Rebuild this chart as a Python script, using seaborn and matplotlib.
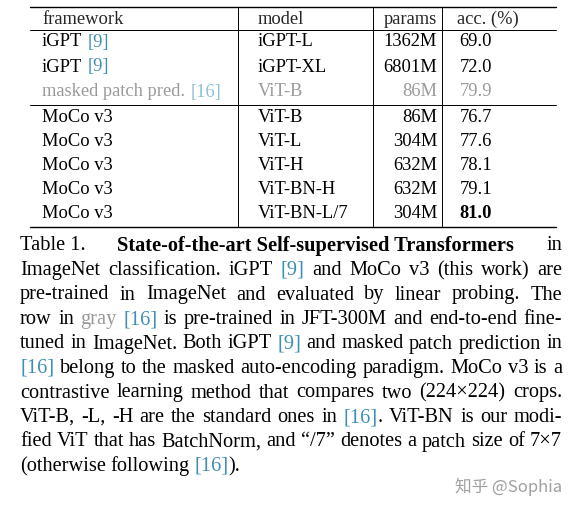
import matplotlib
matplotlib.use("Agg")
import matplotlib.pyplot as plt
import seaborn as sns

# table data
frameworks = ["iGPT", "iGPT", "masked patch pred.", "MoCo v3", "MoCo v3", "MoCo v3", "MoCo v3", "MoCo v3"]
cites = ["[9]", "[9]", "[16]", "", "", "", "", ""]
models = ["iGPT-L", "iGPT-XL", "ViT-B", "ViT-B", "ViT-L", "ViT-H", "ViT-BN-H", "ViT-BN-L/7"]
params = ["1362M", "6801M", "86M", "86M", "304M", "632M", "632M", "304M"]
accs = ["69.0", "72.0", "79.9", "76.7", "77.6", "78.1", "79.1", "81.0"]
headers = ["framework", "model", "params", "acc. (%)"]

# caption lines: {..} = citation, <..> = gray word, ^ = glue to previous
caption = [
    [("Table 1.", "n"), ("State-of-the-art Self-supervised Transformers", "b"), ("in", "n")],
    "ImageNet classification. iGPT {[9]} and MoCo v3 (this work) are",
    "pre-trained in ImageNet and evaluated by linear probing. The",
    "row in <gray> {[16]} is pre-trained in JFT-300M and end-to-end fine-",
    "tuned in ImageNet. Both iGPT {[9]} and masked patch prediction in",
    "{[16]} belong to the masked auto-encoding paradigm. MoCo v3 is a",
    "contrastive learning method that compares two (224×224) crops.",
    "ViT-B, -L, -H are the standard ones in {[16]}. ViT-BN is our modi-",
    "fied ViT that has BatchNorm, and “/7” denotes a patch size of 7×7",
    "(otherwise following {[16]}^).",
]

sns.set_style("white")
plt.rcParams['font.family'] = ['Liberation Serif', 'DejaVu Serif']

W, H = 577, 511
fig = plt.figure(figsize=(W / 100, H / 100), dpi=100)
ax = fig.add_axes([0, 0, 1, 1])
ax.set_xlim(0, W)
ax.set_ylim(H, 0)
ax.axis("off")

CITE = "#3f8fb5"
GRAY = "#9a9a9a"
fs_t = 13.3

# rules
ax.plot([30, 556], [7, 7], color="black", lw=1.0)
ax.plot([30, 556], [30, 30], color="black", lw=0.7)
ax.plot([30, 556], [105, 105], color="black", lw=0.7)
ax.plot([30, 556], [227, 227], color="black", lw=1.0)
for vx in [238, 373, 442]:
    ax.plot([vx, vx], [7, 227], color="black", lw=0.7)

ax.text(42, 19, headers[0], fontsize=fs_t, va="center")
ax.text(258, 19, headers[1], fontsize=fs_t, va="center")
ax.text(410, 19, headers[2], fontsize=fs_t, va="center", ha="center")
ax.text(488, 19, headers[3], fontsize=fs_t, va="center", ha="center")

row_y = [42, 67, 92, 118, 142, 166, 189, 213]
fig.canvas.draw()
r = fig.canvas.get_renderer()
for i in range(len(frameworks)):
    y = row_y[i]
    col = GRAY if i == 2 else "black"
    t = ax.text(42, y, frameworks[i], fontsize=fs_t, va="center", color=col)
    if cites[i]:
        bb = t.get_window_extent(r)
        ax.text(bb.x1 + 5, y, cites[i], fontsize=fs_t, va="center",
                color="#8fbfd8" if i == 2 else CITE)
    ax.text(258, y, models[i], fontsize=fs_t, va="center", color=col)
    ax.text(437, y, params[i], fontsize=fs_t, va="center", ha="right", color=col)
    ax.text(476, y, accs[i], fontsize=fs_t, va="center", ha="center", color=col,
            fontweight="bold" if i == 7 else "normal")


def tokens(line):
    if isinstance(line, list):
        return [(t, s, False) for t, s in line]
    out = []
    for w in line.split(" "):
        if "^" in w:
            a, b = w.split("^")
            out.append((a.strip("{}"), "c", False))
            out.append((b, "n", True))
            continue
        if w.startswith("{"):
            out.append((w[1:w.index("}")], "c", False))
            rest = w[w.index("}") + 1:]
            if rest:
                out.append((rest, "n", True))
        elif w.startswith("<"):
            out.append((w.strip("<>"), "g", False))
        else:
            out.append((w, "n", False))
    return out


fs_c = 14.7
x0, x1 = 20, 562
for li, line in enumerate(caption):
    y = 246 + li * 24.5
    arts = []
    for t, s, g in tokens(line):
        color = {"n": "black", "b": "black", "c": CITE, "g": GRAY}[s]
        a = ax.text(0, y, t, fontsize=fs_c, va="center", color=color,
                    fontweight="bold" if s == "b" else "normal")
        arts.append((a, g))
    ws = [a.get_window_extent(r).width for a, _ in arts]
    ngaps = sum(1 for _, g in arts[1:] if not g)
    last = li == len(caption) - 1
    gap = 4.5 if last or ngaps == 0 else (x1 - x0 - sum(ws)) / ngaps
    x = x0
    for k, ((a, g), w) in enumerate(zip(arts, ws)):
        if k > 0 and not g:
            x += gap
        a.set_x(x)
        x += w

ax.text(562, 487, "知乎 @Sophia", fontsize=12, va="center", ha="right", color="#a0a0a0",
        family=["Noto Sans CJK SC", "DejaVu Sans"])

fig.savefig("out.png", dpi=100)
